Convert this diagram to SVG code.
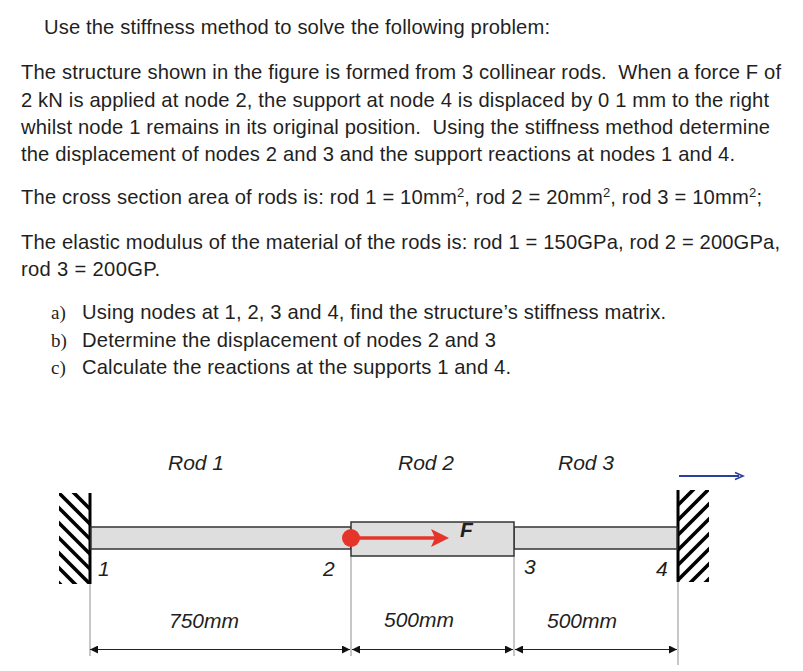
<svg xmlns="http://www.w3.org/2000/svg" width="803" height="671" viewBox="0 0 803 671">
<defs>
<style>
text{font-family:"Liberation Sans",Arial,sans-serif;fill:#1f1f1f}
.b{font-size:20.2px;white-space:pre}
.l{font-family:"Liberation Serif",serif;font-size:19px}
.i{font-size:21px;font-style:italic}
.rod{fill:#dedede;stroke:#333;stroke-width:1.5}
.ext{stroke:#aaa;stroke-width:1.3;fill:none}
.dim{stroke:#222;stroke-width:1.2;fill:none;marker-start:url(#ds);marker-end:url(#de)}
.wall{stroke:#000;stroke-width:3;fill:none}
.h{stroke:#000;stroke-width:3.6;fill:none}
</style>
<marker id="de" markerUnits="userSpaceOnUse" markerWidth="9" markerHeight="8" refX="8" refY="4" orient="auto"><path d="M0 0L8 4L0 8Z" fill="#111"/></marker>
<marker id="ds" markerUnits="userSpaceOnUse" markerWidth="9" markerHeight="8" refX="0" refY="4" orient="auto"><path d="M8 0L0 4L8 8Z" fill="#111"/></marker>
<clipPath id="cl"><rect x="59" y="493" width="32" height="91"/></clipPath>
<clipPath id="cr"><rect x="677" y="490" width="32" height="92"/></clipPath>
</defs>
<rect width="803" height="671" fill="#fff"/>
<g id="problem-text">
<text class="b" x="44" y="34" textLength="506" lengthAdjust="spacing">Use the stiffness method to solve the following problem:</text>
<text class="b" x="21" y="79" textLength="760" lengthAdjust="spacing">The structure shown in the figure is formed from 3 collinear rods.  When a force F of</text>
<text class="b" x="21" y="107" textLength="748" lengthAdjust="spacing">2 kN is applied at node 2, the support at node 4 is displaced by 0 1 mm to the right</text>
<text class="b" x="21" y="134" textLength="749" lengthAdjust="spacing">whilst node 1 remains in its original position.  Using the stiffness method determine</text>
<text class="b" x="21" y="161" textLength="714" lengthAdjust="spacing">the displacement of nodes 2 and 3 and the support reactions at nodes 1 and 4.</text>
<text class="b" x="21" y="204" textLength="741" lengthAdjust="spacing">The cross section area of rods is: rod 1 = 10mm<tspan font-size="13" dy="-7">2</tspan><tspan dy="7">, rod 2 = 20mm</tspan><tspan font-size="13" dy="-7">2</tspan><tspan dy="7">, rod 3 = 10mm</tspan><tspan font-size="13" dy="-7">2</tspan><tspan dy="7">;</tspan></text>
<text class="b" x="21" y="249" textLength="759" lengthAdjust="spacing">The elastic modulus of the material of the rods is: rod 1 = 150GPa, rod 2 = 200GPa,</text>
<text class="b" x="21" y="276" textLength="139" lengthAdjust="spacing">rod 3 = 200GP.</text>
<text class="l" x="51" y="319">a)</text>
<text class="b" x="82" y="319" textLength="584" lengthAdjust="spacing">Using nodes at 1, 2, 3 and 4, find the structure’s stiffness matrix.</text>
<text class="l" x="51" y="347">b)</text>
<text class="b" x="82" y="347" textLength="414" lengthAdjust="spacing">Determine the displacement of nodes 2 and 3</text>
<text class="l" x="51" y="374">c)</text>
<text class="b" x="82" y="374" textLength="429" lengthAdjust="spacing">Calculate the reactions at the supports 1 and 4.</text>
</g>
<g id="connectors">
<path class="ext" d="M90 580V656M351 556V656M514 556V656M678 580V665"/>
<path class="dim" d="M90 649.500H350"/>
<path class="dim" d="M352 649.500H513"/>
<path class="dim" d="M515 649.500H677"/>
<path d="M679 476H739" stroke="#2a3f9e" stroke-width="1.800" fill="none"/>
<path d="M735 472.500L743 476L735 479.500" stroke="#2a3f9e" stroke-width="1.600" fill="none"/>
</g>
<g id="wall-left">
<g clip-path="url(#cl)"><path class="h" d="M50 469L98 517M50 484L98 532M50 499L98 547M50 514L98 562M50 529L98 577M50 544L98 592M50 559L98 607M50 574L98 622M50 589L98 637"/></g>
<path class="wall" d="M90 493V584"/>
</g>
<g id="wall-right">
<g clip-path="url(#cr)"><path class="h" d="M670 513L716 467M670 528L716 482M670 543L716 497M670 558L716 512M670 573L716 527M670 588L716 542M670 603L716 557M670 618L716 572M670 633L716 587"/></g>
<path class="wall" d="M678 490V582"/>
</g>
<g id="rod-1"><rect class="rod" x="91" y="527" width="260" height="22"/><text class="i" x="168" y="470">Rod 1</text><text class="i" x="204" y="628" text-anchor="middle">750mm</text></g>
<g id="rod-3"><rect class="rod" x="514" y="527" width="163" height="22"/><text class="i" x="558" y="470">Rod 3</text><text class="i" x="582" y="628" text-anchor="middle">500mm</text></g>
<g id="rod-2"><rect class="rod" x="351" y="522" width="163" height="34"/><text class="i" x="398" y="470">Rod 2</text><text class="i" x="419" y="627" text-anchor="middle">500mm</text></g>
<g id="node-1"><text class="i" x="98" y="576">1</text></g>
<g id="node-2">
<text class="i" x="323" y="576">2</text>
<path d="M351 538H440" stroke="#e5352b" stroke-width="3.500" fill="none"/>
<path d="M431 529L449 538L431 547L435 538Z" fill="#e5352b"/>
<circle cx="351" cy="538" r="9" fill="#e5352b"/>
<text x="460" y="537" font-size="21" font-weight="700" font-style="italic">F</text>
</g>
<g id="node-3"><text class="i" x="524" y="574">3</text></g>
<g id="node-4"><text class="i" x="656" y="576">4</text></g>
</svg>
